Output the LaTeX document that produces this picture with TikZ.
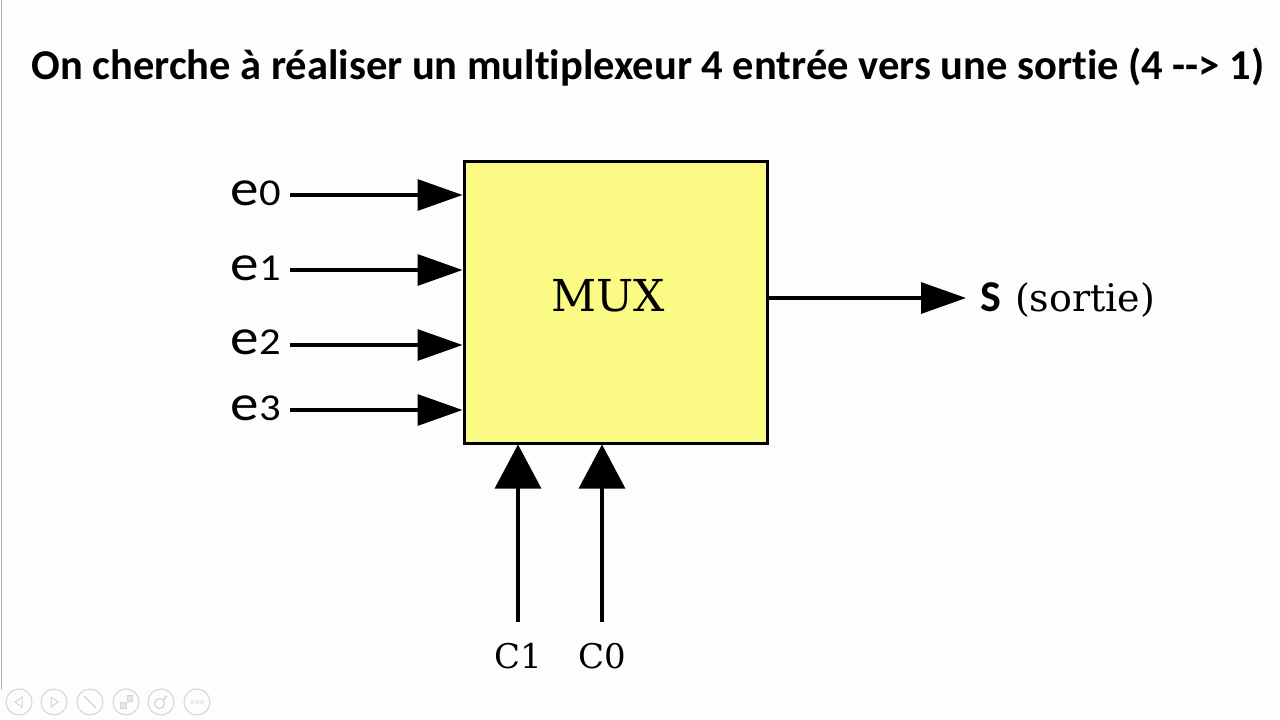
\documentclass[tikz,border=0pt]{standalone}
\usepackage{fontspec}
\setmainfont{Carlito}[Ligatures={NoCommon}]
\newfontfamily\serifmux{DejaVu Serif}
\usetikzlibrary{arrows.meta}
\definecolor{bgc}{HTML}{FDFDFB}
\definecolor{muxfill}{HTML}{FAFA84}
\definecolor{icongray}{HTML}{D4D4D4}
\tikzset{
  inarrow/.style={line width=3.2pt,-{Triangle[length=45pt,width=31pt]}},
  carrow/.style={line width=3.2pt,-{Triangle[length=44pt,width=46pt]}},
  elabel/.style={anchor=base east,inner sep=0pt},
  icon/.style={circle,draw=icongray,line width=1pt,minimum size=26pt,inner sep=0pt}
}
\newcommand{\elab}[1]{\scalebox{1.12}[1]{{\fontsize{51}{51}\selectfont e}{\fontsize{38}{38}\selectfont #1}}}
\begin{document}
\begin{tikzpicture}[x=1pt,y=-1pt]
\useasboundingbox (0,0) rectangle (1280,720);
\fill[bgc] (0,0) rectangle (1280,720);
\draw[gray!60,line width=1pt] (1,0) -- (1,690);
% title
\node[anchor=base,inner sep=0pt,font=\bfseries\fontsize{42.5}{46}\selectfont] (title) at (648,79)
  {On cherche à réaliser un multiplexeur 4 entrée vers une sortie (4 {-}{-}> 1)};
% mux box
\node[draw=black,line width=3pt,fill=muxfill,minimum width=303pt,minimum height=282pt,inner sep=0pt,anchor=north west] (mux) at (462.5,159.5) {};
\node[font=\serifmux\fontsize{44}{44}\selectfont,inner sep=0pt] (muxlab) at (608,296) {MUX};
% inputs
\foreach \i/\y/\bl in {0/195/205,1/270/280,2/345/354,3/410/420}{
  \node[elabel] (e\i) at (281,\bl) {\elab{\i}};
  \coordinate (s\i) at (290,\y);
  \draw[inarrow] (s\i) -- (mux.west |- s\i);
}
% output
\coordinate (outend) at (966,298);
\draw[inarrow] (mux.east |- outend) -- (outend);
\node[anchor=base west,inner sep=0pt] (slab) at (980,311) {{\bfseries\fontsize{44}{44}\selectfont S}\hspace{14pt}{\serifmux\fontsize{38}{38}\selectfont (sortie)}};
% control inputs
\node[font=\serifmux\fontsize{34}{34}\selectfont,inner sep=0pt,anchor=base] (c1) at (518,668) {C1};
\node[font=\serifmux\fontsize{34}{34}\selectfont,inner sep=0pt,anchor=base] (c0) at (602,668) {C0};
\coordinate (c1s) at (518,622);
\coordinate (c0s) at (602,622);
\draw[carrow] (c1s) -- (c1s |- mux.south);
\draw[carrow] (c0s) -- (c0s |- mux.south);
% slideshow toolbar
\foreach \n/\x in {1/19,2/54,3/90,4/126,5/161,6/197}{
  \node[icon] (ic\n) at (\x,702) {};
}
\draw[icongray,line width=1pt] ([xshift=3pt,yshift=-5pt]ic1.center) -- ([xshift=-4pt]ic1.center) -- ([xshift=3pt,yshift=5pt]ic1.center) -- cycle;
\draw[icongray,line width=1pt] ([xshift=-3pt,yshift=-5pt]ic2.center) -- ([xshift=4pt]ic2.center) -- ([xshift=-3pt,yshift=5pt]ic2.center) -- cycle;
\draw[icongray,line width=1.2pt] ([xshift=-6pt,yshift=6pt]ic3.center) -- ([xshift=6pt,yshift=-6pt]ic3.center);
\draw[icongray,fill=icongray!60] ([xshift=-6pt,yshift=-6pt]ic4.center) rectangle ([xshift=0pt,yshift=0pt]ic4.center);
\draw[icongray,fill=icongray!60] ([xshift=1pt,yshift=1pt]ic4.center) rectangle ([xshift=6pt,yshift=7pt]ic4.center);
\draw[icongray,line width=1.2pt] ([xshift=-1.5pt,yshift=-1.5pt]ic5.center) circle (5pt);
\draw[icongray,line width=1.5pt] ([xshift=2pt,yshift=2pt]ic5.center) -- ([xshift=6pt,yshift=6pt]ic5.center);
\foreach \d in {-5,0,5}{\draw[icongray] ([xshift=\d pt]ic6.center) circle (1.8pt);}
\end{tikzpicture}
\end{document}
